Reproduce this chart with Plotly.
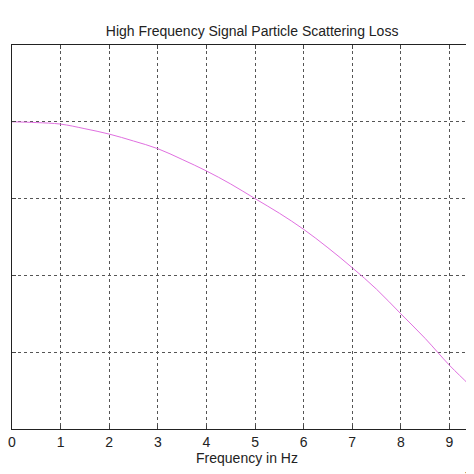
import plotly.graph_objects as go

freq = [0, 0.5, 1, 1.5, 2, 2.5, 3, 3.5, 4, 4.5, 5, 5.5, 6, 6.5, 7, 7.5, 8, 8.5, 9, 9.4, 9.7]
loss = [4.0, 3.99, 3.97, 3.91, 3.84, 3.75, 3.65, 3.51, 3.36, 3.19, 3.0, 2.81, 2.6, 2.36, 2.1, 1.82, 1.5, 1.18, 0.83, 0.58, 0.38]
xticks = list(range(0, 10))
yticks = [0, 1, 2, 3, 4, 5]

fig = go.Figure(go.Scatter(x=freq, y=loss, mode="lines", line=dict(color="#e070e0", width=1), line_shape="spline"))
fig.update_layout(
    width=474, height=474, plot_bgcolor="white", paper_bgcolor="white",
    margin=dict(l=4, r=0, t=37, b=53), showlegend=False,
    font=dict(family="Liberation Sans, Arial", color="#222"),
    title=dict(text="High Frequency Signal Particle Scattering Loss", x=0.515, y=0.962, xanchor="center", font=dict(size=14), automargin=False),
)
fig.update_xaxes(range=[0, 9.67], tickvals=xticks, ticks="inside", ticklen=4, mirror="ticks", automargin=False,
                 showline=True, linecolor="#222", linewidth=1,
                 showgrid=True, gridcolor="#555", griddash="dot", gridwidth=1, zeroline=False,
                 title=dict(text="Frequency in Hz", font=dict(size=14), standoff=4), tickfont=dict(size=14))
fig.update_yaxes(range=[0, 5], tickvals=yticks, showticklabels=False, ticks="inside", ticklen=4, mirror="ticks", automargin=False,
                 showline=True, linecolor="#222", linewidth=1,
                 showgrid=True, gridcolor="#555", griddash="dot", gridwidth=1, zeroline=False)
fig.add_annotation(text="x 10", xref="paper", yref="paper", x=0.96, y=-0.095, xanchor="left", yanchor="top",
                   showarrow=False, font=dict(size=13))
fig.write_html("out.html")
